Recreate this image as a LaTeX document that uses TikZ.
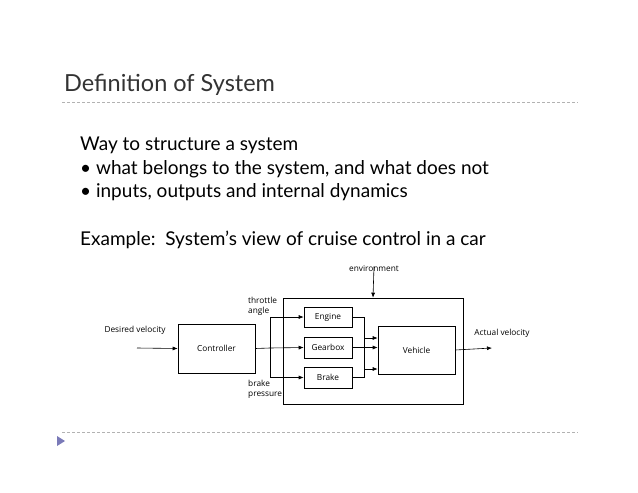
\documentclass[tikz,border=0pt]{standalone}
\usepackage{fontspec}
\setmainfont{Lato}
\newfontfamily\diag{Open Sans}
\usetikzlibrary{arrows.meta}
\begin{document}
\begin{tikzpicture}[x=1pt,y=-1pt,
  blk/.style={draw,line width=0.6pt,inner sep=0pt,font=\diag\fontsize{8.3}{9}\selectfont},
  lbl/.style={font=\diag\fontsize{8.3}{10}\selectfont,inner sep=0pt},
  ar/.style={line width=0.6pt,-{Latex[length=5pt,width=4pt]}},
  body/.style={font=\fontsize{19}{22}\selectfont,anchor=west,inner sep=0pt}]
\useasboundingbox (0,0) rectangle (638,493);
\node[anchor=west,inner sep=0pt,font=\fontsize{23.5}{28}\selectfont,text=black!80] (title) at (64,85) {Definition of System};
\draw[gray!60,dash pattern=on 3pt off 2pt] (62,102) -- (578,102);
\draw[gray!60,dash pattern=on 3pt off 2pt] (62,432) -- (578,432);
\fill[blue!30!gray!80] (57,436) -- (65,441) -- (57,446) -- cycle;
\node[body] (l1) at (80,145) {Way to structure a system};
\node[body] (l2) at (80,169) {• what belongs to the system, and what does not};
\node[body] (l3) at (80,192) {• inputs, outputs and internal dynamics};
\node[body] (l4) at (80,240) {Example:\ \ System’s view of cruise control in a car};
% diagram
\node[blk,minimum width=180pt,minimum height=106pt] (sys) at (373,351) {};
\node[blk,minimum width=77pt,minimum height=49pt] (ctrl) at (216.5,348.5) {Controller};
\node[blk,minimum width=48pt,minimum height=20pt] (eng) at (328,317) {Engine};
\node[blk,minimum width=48pt,minimum height=21pt] (gear) at (328,347.5) {Gearbox};
\node[blk,minimum width=48pt,minimum height=21pt] (brk) at (328,377.5) {Brake};
\node[blk,minimum width=77pt,minimum height=48pt] (veh) at (416.5,350) {Vehicle};
\node[lbl] (env) at (374,268) {environment};
\node[lbl] (dv) at (135,330) {Desired velocity};
\node[lbl] (av) at (502,333) {Actual velocity};
\node[lbl,align=left,anchor=west] (ta) at (248,306) {throttle\\angle};
\node[lbl,align=left,anchor=west] (bp) at (248,389) {brake\\pressure};
\coordinate (dvs) at (137,348);
\coordinate (ave) at (492,348);
\coordinate (split) at (270,348);
\draw[ar] (dvs) -- (ctrl.west);
\draw[ar] (veh.east) -- (ave);
\draw[ar] ([yshift=5pt]env.south) -- (sys.north);
\draw[line width=0.6pt] (ctrl.east) -- (split);
\draw[ar] (split) |- (eng.west);
\draw[ar] (split) -- (gear.west);
\draw[ar] (split) |- (brk.west);
\draw[ar] (eng.east) -- ++(12,0) |- ([yshift=-19pt]veh.west);
\draw[ar] (gear.east) -- (gear.east -| veh.west);
\draw[ar] (brk.east) -- ++(12,0) |- ([yshift=12pt]veh.west);
\end{tikzpicture}
\end{document}
